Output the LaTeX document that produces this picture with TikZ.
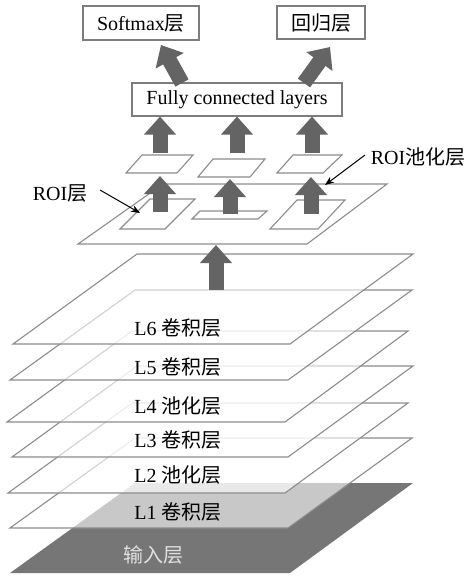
\documentclass[tikz,border=0pt]{standalone}
\usepackage{fontspec}
\setmainfont{Liberation Serif}
\newfontfamily\cjk{Noto Sans CJK SC}
\usetikzlibrary{arrows.meta}
\definecolor{edgec}{RGB}{140,140,140}
\definecolor{boxc}{RGB}{125,125,125}
\definecolor{arrc}{RGB}{100,100,100}
\definecolor{inpc}{RGB}{118,118,118}
\definecolor{inptxt}{RGB}{225,225,225}
\tikzset{
  layer/.style={draw=edgec, line width=1.1pt, fill=white, fill opacity=0.6},
  inplayer/.style={draw=none, fill=inpc},
  plane/.style={draw=edgec, line width=1.1pt, fill=white},
  txtbox/.style={draw=boxc, line width=1.1pt, fill=white, inner sep=0pt, font=\fontsize{20}{24}\selectfont},
  lbl/.style={inner sep=0pt, font=\fontsize{20}{24}\selectfont},
  blk/.style={draw=arrc, line width=15pt, -{Triangle[width=31pt,length=18pt]}},
  ann/.style={draw=black, line width=1pt, -{Stealth[length=9pt,width=7pt]}}
}
\begin{document}
\begin{tikzpicture}[x=1pt,y=-1pt]
\useasboundingbox (0,0) rectangle (474,579);
% input layer and conv layers (bottom to top)
\fill[inplayer] (10,573) -- (290,573) -- (413,483) -- (135,483) -- cycle;
\node[lbl, text=inptxt] (inp) at (153,555) {\cjk 输入层};
\draw[layer] (10,528) -- (288,528) -- (412,438) -- (135,438) -- cycle;
\node[lbl] (l1) at (178,512) {L1 {\cjk 卷积层}};
\draw[layer] (8,493) -- (285,493) -- (408,403) -- (132,403) -- cycle;
\node[lbl] (l2) at (178,475) {L2 {\cjk 池化层}};
\draw[layer] (12,457) -- (288,457) -- (413,366) -- (137,366) -- cycle;
\node[lbl] (l3) at (178,440) {L3 {\cjk 卷积层}};
\draw[layer] (7,422) -- (285,422) -- (408,331) -- (132,331) -- cycle;
\node[lbl] (l4) at (178,406) {L4 {\cjk 池化层}};
\draw[layer] (10,380) -- (288,380) -- (412,290) -- (135,290) -- cycle;
\node[lbl] (l5) at (178,367) {L5 {\cjk 卷积层}};
\draw[layer] (13,344) -- (290,344) -- (413,254) -- (137,254) -- cycle;
\node[lbl] (l6) at (178,328) {L6 {\cjk 卷积层}};
% ROI plane
\draw[plane] (78,244) -- (307,244) -- (387,184) -- (163,184) -- cycle;
\coordinate (convtop) at (216,290);
\coordinate (roibot) at (216,245);
\draw[blk] (convtop) -- (roibot);
% lower ROI boxes
\draw[plane] (120,229) -- (165,229) -- (195,199) -- (150,199) -- cycle;
\draw[plane] (192,219) -- (258,219) -- (267,211) -- (200,211) -- cycle;
\draw[plane] (270,229) -- (318,229) -- (345,200) -- (297,200) -- cycle;
% upper ROI pooled boxes
\draw[plane] (126,173) -- (177,173) -- (193,155) -- (142,155) -- cycle;
\draw[plane] (198,177) -- (250,177) -- (265,159) -- (213,159) -- cycle;
\draw[plane] (277,173) -- (323,173) -- (342,155) -- (293,155) -- cycle;
% arrows from ROI boxes to pooled boxes
\coordinate (ra) at (160,212); \coordinate (rat) at (160,176);
\coordinate (rb) at (230,214); \coordinate (rbt) at (230,179);
\coordinate (rc) at (311,214); \coordinate (rct) at (311,177);
\draw[blk] (ra) -- (rat);
\draw[blk] (rb) -- (rbt);
\draw[blk] (rc) -- (rct);
% top boxes
\node[txtbox, minimum width=210pt, minimum height=33pt] (fc) at (237,99.5) {Fully connected layers};
\node[txtbox, minimum width=116pt, minimum height=34pt] (soft) at (141,23) {Softmax{\cjk 层}};
\node[txtbox, minimum width=88pt, minimum height=33pt] (reg) at (321,22.5) {\cjk 回归层};
% arrows from pooled boxes to fc
\coordinate (pa) at (160,153);
\coordinate (pb) at (237,153);
\coordinate (pc) at (312,153);
\draw[blk] (pa) -- (pa |- fc.south);
\draw[blk] (pb) -- (pb |- fc.south);
\draw[blk] (pc) -- (pc |- fc.south);
% arrows from fc to outputs
\coordinate (fa) at (182,83); \coordinate (fat) at (161,45);
\coordinate (fb) at (304,83); \coordinate (fbt) at (330,47);
\draw[blk] (fa) -- (fat);
\draw[blk] (fb) -- (fbt);
% annotations
\node[lbl] (roil) at (60,193) {ROI{\cjk 层}};
\node[lbl] (roipl) at (418,157) {ROI{\cjk 池化层}};
\coordinate (a1s) at (100,190); \coordinate (a1e) at (140,213);
\coordinate (a2s) at (365,155); \coordinate (a2e) at (325,185);
\draw[ann] (a1s) -- (a1e);
\draw[ann] (a2s) -- (a2e);
\end{tikzpicture}
\end{document}
